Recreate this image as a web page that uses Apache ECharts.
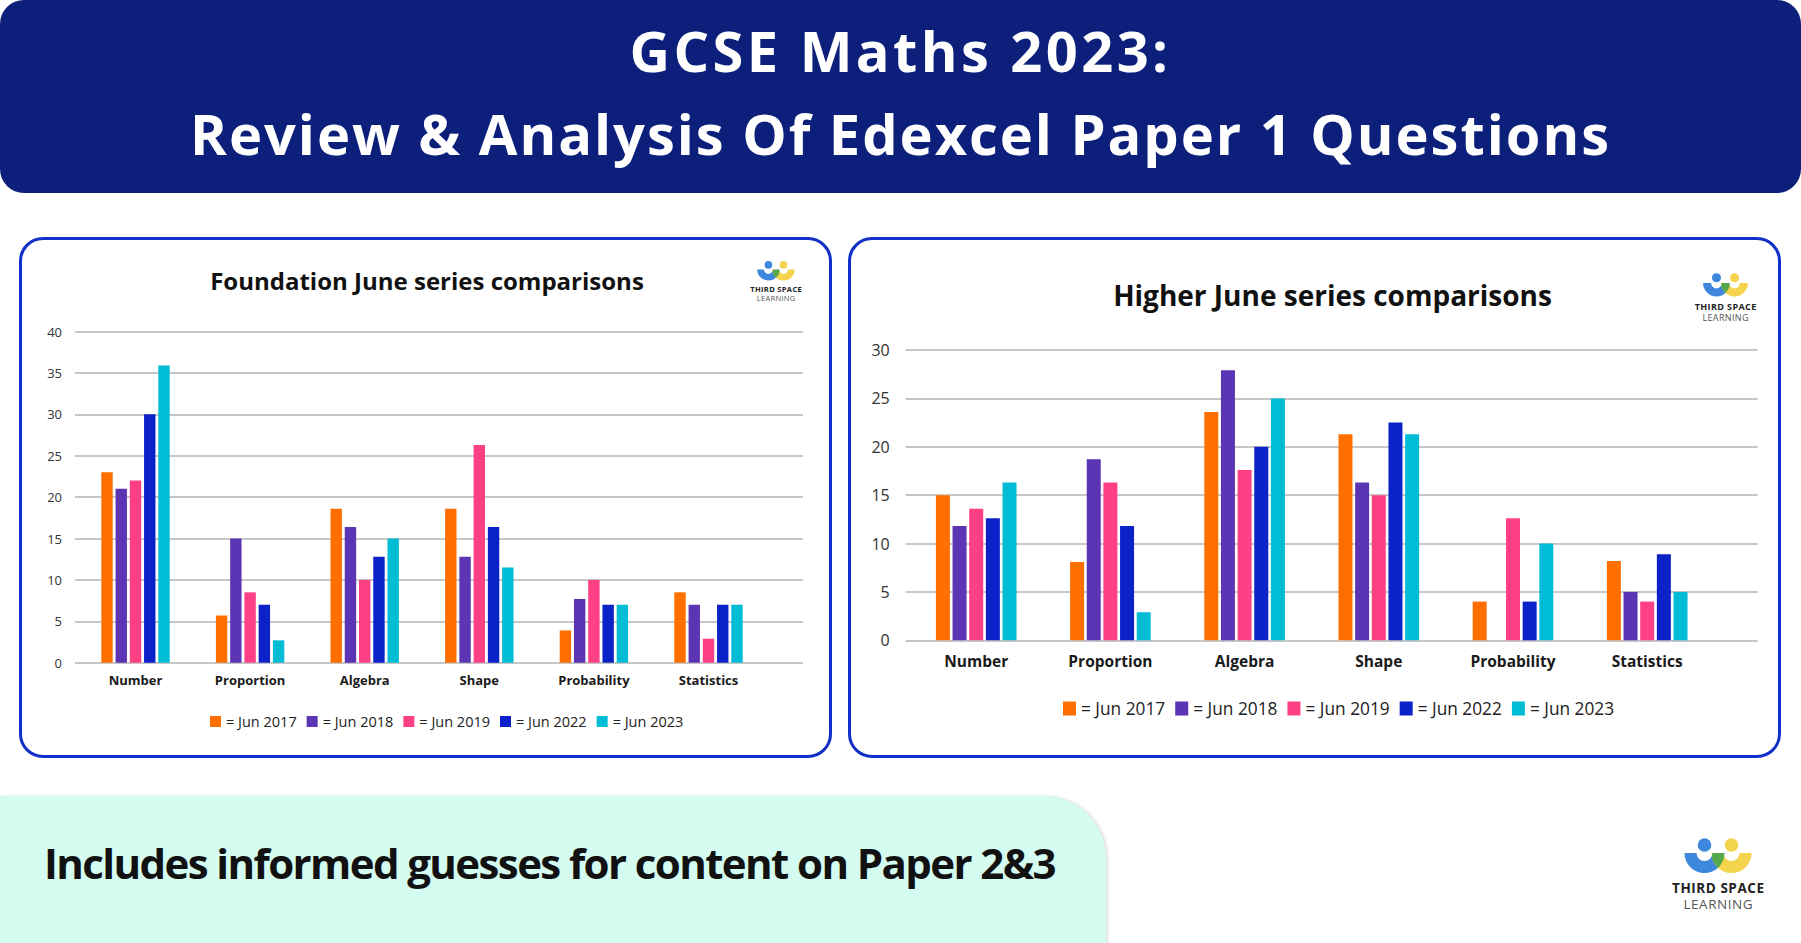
<!DOCTYPE html>
<html>
<head>
<meta charset="utf-8">
<script src="https://cdn.jsdelivr.net/npm/echarts@6/dist/echarts.min.js"></script>
<style>
html,body{margin:0;padding:0;background:#fff;width:1801px;height:943px;overflow:hidden;font-family:"Open Sans",sans-serif;}
#header{position:absolute;left:0;top:0;width:1801px;height:193px;background:#0b1f7b;border-radius:24px;}
.hl{position:absolute;left:0;width:1801px;text-align:center;color:#fff;font-weight:700;font-size:56px;line-height:56px;white-space:nowrap;}
.hl span{display:inline-block;}
#h1{top:22px;}
#h2{top:105px;}
.panel{position:absolute;box-sizing:border-box;border:3.5px solid #1230c8;border-radius:24px;background:#fff;}
#p1{left:19px;top:237px;width:813px;height:521px;}
#p2{left:848px;top:237px;width:933px;height:521px;}
#banner{position:absolute;left:0;top:796px;width:1106px;height:160px;background:#d4fcf0;border-top-right-radius:62px;box-shadow:2px 0 3px rgba(0,0,0,0.12);}
#btext{position:absolute;left:44px;top:46px;font-weight:700;font-size:42px;line-height:42px;color:#111;white-space:nowrap;}
.logo{position:absolute;}
#chart{position:absolute;left:0;top:0;width:1801px;height:943px;z-index:5;}
</style>
</head>
<body>
<div id="header">
  <div class="hl" id="h1"><span id="h1t">GCSE Maths 2023:</span></div>
  <div class="hl" id="h2"><span id="h2t">Review &amp; Analysis Of Edexcel Paper 1 Questions</span></div>
</div>
<div class="panel" id="p1"></div>
<div class="panel" id="p2"></div>
<div id="banner"><span id="btext">Includes informed guesses for content on Paper 2&amp;3</span></div>
<div id="logos"></div>
<div id="chart"></div>
<script>
// ---------- DATA ----------
const categories = ['Number', 'Proportion', 'Algebra', 'Shape', 'Probability', 'Statistics'];
const seriesNames = ['Jun 2017', 'Jun 2018', 'Jun 2019', 'Jun 2022', 'Jun 2023'];

const foundation2017 = [23, 5.7, 18.6, 18.6, 3.9, 8.5];
const foundation2018 = [21, 15, 16.4, 12.8, 7.7, 7];
const foundation2019 = [22, 8.5, 10, 26.3, 10, 2.9];
const foundation2022 = [30, 7, 12.8, 16.4, 7, 7];
const foundation2023 = [35.9, 2.7, 15, 11.5, 7, 7];

const higher2017 = [15, 8.1, 23.6, 21.3, 4, 8.2];
const higher2018 = [11.8, 18.7, 27.9, 16.3, null, 5];
const higher2019 = [13.6, 16.3, 17.6, 15, 12.6, 4];
const higher2022 = [12.6, 11.8, 20, 22.5, 4, 8.9];
const higher2023 = [16.3, 2.9, 25, 21.3, 10, 5];

const foundationMax = 40;
const higherMax = 30;
const tickStep = 5;

const seriesColors = ['#ff6f00', '#5c35b5', '#ff4085', '#0a22c8', '#00bcd4'];

// ---------- fit header / banner text widths ----------
function fit(id, target) {
  const el = document.getElementById(id);
  el.style.letterSpacing = '0px';
  const w = el.getBoundingClientRect().width;
  const n = el.textContent.length;
  el.style.letterSpacing = ((target - w) / n) + 'px';
}
function fitAll() {
  fit('h1t', 542);
  fit('h2t', 1421);
  fit('btext', 1011);
}
fitAll();
if (document.fonts && document.fonts.ready) document.fonts.ready.then(fitAll);

// ---------- logos ----------
function logoSVG(left, top, scale) {
  const w = 100 * scale, h = 80 * scale;
  const uid = 'c' + Math.round(left) + '_' + Math.round(top);
  const blueRing = 'M16.5,15 A20,20 0 0 0 56.5,15 L44.5,15 A8,8 0 0 1 28.5,15 Z';
  const yellowRing = 'M43.5,15 A20,20 0 0 0 83.5,15 L71.5,15 A8,8 0 0 1 55.5,15 Z';
  return `<svg class="logo" style="left:${left}px;top:${top}px" width="${w}" height="${h}" viewBox="0 0 100 80">
    <defs><clipPath id="${uid}"><path d="${blueRing}"/></clipPath></defs>
    <circle cx="36.5" cy="7" r="6.8" fill="#3d87dc"/>
    <circle cx="63.5" cy="7" r="6.8" fill="#f4d44d"/>
    <path d="${blueRing}" fill="#3d87dc"/>
    <path d="${yellowRing}" fill="#f4d44d"/>
    <path d="${yellowRing}" fill="#55a84a" clip-path="url(#${uid})"/>
    <text x="50" y="55" text-anchor="middle" font-family="Open Sans" font-weight="700" font-size="13.5" fill="#222" textLength="92" lengthAdjust="spacing">THIRD SPACE</text>
    <text x="50" y="71" text-anchor="middle" font-family="Open Sans" font-weight="400" font-size="13.5" fill="#555" textLength="69" lengthAdjust="spacing">LEARNING</text>
  </svg>`;
}
document.getElementById('logos').innerHTML =
  logoSVG(748, 261, 0.56) + logoSVG(1691.5, 273, 0.67) + logoSVG(1668, 838, 1);

// ---------- chart ----------
const chart = echarts.init(document.getElementById('chart'), null, { renderer: 'svg', width: 1801, height: 943 });
const FONT = 'Open Sans';
const foundationData = [foundation2017, foundation2018, foundation2019, foundation2022, foundation2023];
const higherData = [higher2017, higher2018, higher2019, higher2022, higher2023];

function gridLineAxis(gridIndex, max, fontSize, margin) {
  return {
    gridIndex, type: 'value', min: 0, max, interval: tickStep,
    axisLine: { show: false }, axisTick: { show: false },
    axisLabel: { fontFamily: FONT, fontSize, color: '#333', margin },
    splitLine: { show: true, lineStyle: { color: '#b5b5b5', width: 1.6 } }
  };
}
function hiddenY(gridIndex, max) {
  return { gridIndex, type: 'value', min: 0, max, interval: tickStep, show: false, splitLine: { show: false } };
}
function catAxis(gridIndex, fontSize, margin) {
  return {
    gridIndex, type: 'category', data: categories,
    axisLine: { show: false }, axisTick: { show: false },
    axisLabel: { fontFamily: FONT, fontWeight: 'bold', fontSize, color: '#1a1a1a', margin, interval: 0 },
    splitLine: { show: false }
  };
}

const series = [];
foundationData.forEach((d, i) => series.push({
  type: 'bar', name: seriesNames[i], xAxisIndex: 1, yAxisIndex: 1, data: d,
  barWidth: 11.4, barGap: '25%', itemStyle: { color: seriesColors[i] }
}));
higherData.forEach((d, i) => series.push({
  type: 'bar', name: seriesNames[i], xAxisIndex: 3, yAxisIndex: 3, data: d,
  barWidth: 14, barGap: '19%', itemStyle: { color: seriesColors[i] }
}));

const option = {
  animation: false,
  color: seriesColors,
  title: [
    { text: 'Foundation June series comparisons', left: 427, top: 268, textAlign: 'center', padding: 0,
      textStyle: { fontFamily: FONT, fontWeight: 'bold', fontSize: 24, color: '#111' } },
    { text: 'Higher June series comparisons', left: 1332.5, top: 281, textAlign: 'center', padding: 0,
      textStyle: { fontFamily: FONT, fontWeight: 'bold', fontSize: 28, color: '#111' } }
  ],
  legend: [
    { data: seriesNames, left: 210, top: 714, padding: 0, itemGap: 10, itemWidth: 11, itemHeight: 11,
      icon: 'rect', formatter: '= {name}', selectedMode: false,
      textStyle: { fontFamily: FONT, fontSize: 14.5, color: '#222' } },
    { data: seriesNames, left: 1063, top: 700, padding: 0, itemGap: 10, itemWidth: 13, itemHeight: 14,
      icon: 'rect', formatter: '= {name}', selectedMode: false,
      textStyle: { fontFamily: FONT, fontSize: 17.3, color: '#222' } }
  ],
  grid: [
    { left: 75, top: 331.5, width: 728, height: 331.2 },
    { left: 78.2, top: 331.5, width: 687.6, height: 331.2 },
    { left: 905.7, top: 350, width: 852, height: 290.3 },
    { left: 909.1, top: 350, width: 805.2, height: 290.3 }
  ],
  xAxis: [
    { gridIndex: 0, type: 'value', min: 0, max: 1, show: false },
    catAxis(1, 13, 11),
    { gridIndex: 2, type: 'value', min: 0, max: 1, show: false },
    catAxis(3, 15.5, 13)
  ],
  yAxis: [
    gridLineAxis(0, foundationMax, 13, 13),
    hiddenY(1, foundationMax),
    gridLineAxis(2, higherMax, 16, 16),
    hiddenY(3, higherMax)
  ],
  series
};
chart.setOption(option);
</script>
</body>
</html>
